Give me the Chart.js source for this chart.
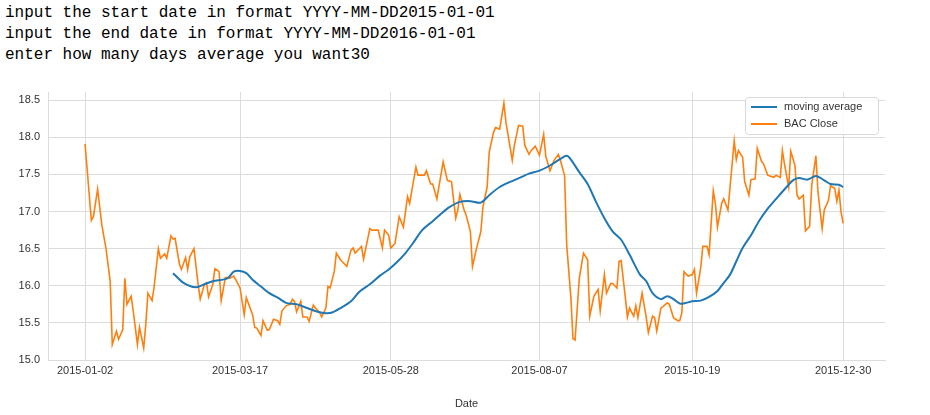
<!DOCTYPE html>
<html><head><meta charset="utf-8">
<script src="https://cdn.jsdelivr.net/npm/chart.js@4"></script>
<style>
body{margin:0;background:#fff;width:930px;height:415px;overflow:hidden;position:relative}
#txt{position:absolute;left:5px;top:3px;font-family:"Liberation Mono",monospace;font-size:16px;line-height:21px;color:#000;white-space:pre}
#wrap{position:absolute;left:0;top:75px;width:930px;height:340px}
</style></head><body>
<div id="txt">input the start date in format YYYY-MM-DD2015-01-01
input the end date in format YYYY-MM-DD2016-01-01
enter how many days average you want30</div>
<div id="wrap"><canvas id="c"></canvas></div>
<script>
// days since 2015-01-02
const closeDays=[0,3,4,6,8,10,12,13,15,16,18,19,20,22,23,25,26,28,29,30,32,33,35,36,38,39,41,42,43,45,46,48,49,50,52,54,55,57,58,59,61,62,64,65,67,68,69,71,72,74,76,77,80,81,82,84,85,87,88,90,92,93,94,96,98,99,100,101,103,104,106,107,109,110,112,113,115,116,117,119,120,122,125,127,128,129,132,133,136,137,140,142,143,145,146,148,150,152,154,155,158,159,162,163,165,166,168,171,173,175,177,178,179,181,182,184,185,187,189,190,192,193,195,196,198,200,201,204,205,207,209,210,212,213,215,217,219,220,222,224,226,227,229,230,232,233,234,236,238,240,241,243,245,246,248,249,251,252,254,255,256,258,259,260,262,263,264,266,268,269,271,272,273,275,276,278,279,281,283,284,285,286,288,290,291,292,294,295,297,298,300,301,302,304,305,307,308,310,311,312,314,315,317,318,320,321,323,324,326,327,329,330,332,333,334,336,337,339,340,341,343,344,346,347,349,350,352,353,355,356,358,359,360,361,362];
const closeVals=[17.91,16.88,16.93,17.30,16.82,16.50,16.06,15.21,15.39,15.28,15.41,16.10,15.75,15.86,15.66,15.21,15.44,15.16,15.48,15.90,15.80,15.99,16.50,16.37,16.43,16.37,16.67,16.63,16.64,16.30,16.22,16.38,16.22,16.39,16.50,16.02,15.82,16.02,16.04,15.85,16.02,16.23,16.19,15.80,16.11,16.11,16.10,16.13,16.08,15.97,15.61,15.84,15.61,15.44,15.43,15.33,15.53,15.40,15.41,15.55,15.53,15.48,15.66,15.73,15.75,15.82,15.79,15.65,15.79,15.58,15.58,15.52,15.74,15.70,15.64,15.58,15.70,15.99,15.97,16.19,16.44,16.35,16.26,16.48,16.51,16.44,16.53,16.36,16.77,16.75,16.75,16.51,16.75,16.68,16.51,16.57,16.93,16.79,17.20,17.11,17.60,17.49,17.49,17.55,17.37,17.37,17.17,17.67,17.42,17.40,16.91,17.02,17.23,17.02,16.95,16.73,16.26,16.51,16.73,17.06,17.33,17.80,18.06,18.13,18.11,18.46,18.20,17.69,17.89,18.16,18.15,17.89,17.77,17.82,17.88,17.76,18.04,17.75,17.55,17.69,17.77,17.69,17.48,16.55,15.84,15.29,15.27,16.10,16.44,16.35,15.59,15.86,15.95,15.66,16.15,15.90,16.03,16.03,15.97,16.33,16.34,15.84,15.58,15.70,15.59,15.73,15.57,15.90,15.57,15.37,15.59,15.57,15.39,15.70,15.72,15.77,15.75,15.57,15.53,15.53,15.64,16.19,16.13,16.15,16.22,15.90,16.24,16.53,16.53,16.42,17.28,17.11,16.79,17.11,17.17,17.02,17.33,17.95,17.70,17.82,17.73,17.40,17.22,17.43,17.44,17.85,17.68,17.64,17.49,17.48,17.46,17.49,17.46,17.82,17.64,17.33,17.81,17.62,17.22,17.17,17.22,16.74,16.80,17.35,17.75,17.26,16.77,17.02,17.15,17.35,17.31,17.14,17.29,17.00,16.84];
const maDays=[42,47,53,57,61,68,71,74,77,80,84,88,92,96,101,106,111,115,118,122,127,131,136,141,145,149,153,157,161,166,170,174,179,184,189,193,198,203,208,212,217,222,227,230,232,236,240,244,248,252,256,260,265,268,271,275,278,281,284,287,290,294,298,302,305,308,311,314,318,322,326,330,335,338,341,345,349,353,356,360,362];
const maVals=[16.17,16.04,15.98,16.02,16.06,16.10,16.19,16.20,16.17,16.08,15.99,15.90,15.84,15.77,15.75,15.70,15.65,15.63,15.64,15.70,15.79,15.92,16.02,16.14,16.22,16.32,16.44,16.59,16.75,16.87,16.97,17.06,17.13,17.14,17.12,17.22,17.33,17.40,17.46,17.51,17.55,17.62,17.71,17.75,17.70,17.53,17.37,17.13,16.91,16.73,16.62,16.42,16.15,16.06,15.90,15.82,15.86,15.82,15.76,15.77,15.79,15.80,15.85,15.93,16.04,16.15,16.33,16.51,16.68,16.88,17.04,17.17,17.33,17.42,17.45,17.43,17.48,17.42,17.37,17.36,17.33];
const tickDays=[0,74,146,217,290,362];
const tickLabels=['2015-01-02','2015-03-17','2015-05-28','2015-08-07','2015-10-19','2015-12-30'];
const legendNames=['moving average','BAC Close'];
const colors=['#1f77b4','#ff7f0e'];

const pts=(d,v)=>d.map((x,i)=>({x:x,y:v[i]}));
const legendPlugin={id:'lg',afterDraw(ch){const c=ch.ctx,a=ch.chartArea;const x=a.right-140,y=a.top+5;
c.save();c.fillStyle='rgba(255,255,255,0.85)';c.strokeStyle='#d8d8d8';c.lineWidth=1;
c.beginPath();c.roundRect(x+0.5,y+0.5,133,37,3);c.fill();c.stroke();
c.font='11px "Liberation Sans",Arial,sans-serif';c.textBaseline='middle';
legendNames.forEach((n,i)=>{const yy=y+10+i*17;c.strokeStyle=colors[i];c.lineWidth=2;c.beginPath();c.moveTo(x+6,yy);c.lineTo(x+32,yy);c.stroke();c.fillStyle='#333';c.fillText(n,x+39,yy);});
c.restore();}};
new Chart(document.getElementById('c'),{type:'line',
data:{datasets:[
{label:legendNames[0],data:pts(maDays,maVals),borderColor:colors[0],borderWidth:2,pointRadius:0,tension:0.3},
{label:legendNames[1],data:pts(closeDays,closeVals),borderColor:colors[1],borderWidth:1.6,pointRadius:0,tension:0}]},
options:{responsive:true,maintainAspectRatio:false,animation:false,
layout:{padding:{top:17,right:45,left:0,bottom:0}},
plugins:{legend:{display:false},tooltip:{enabled:false}},
scales:{
x:{type:'linear',min:-17.7,max:382,
afterBuildTicks(s){s.ticks=tickDays.map(v=>({value:v}));},
afterFit(s){s.height=55;},
ticks:{autoSkip:false,maxRotation:0,color:'#333',font:{size:11,family:'"Liberation Sans",Arial'},padding:4,callback:(v)=>tickLabels[tickDays.indexOf(v)]},
grid:{color:'#dcdcdc',drawTicks:false},border:{color:'#dcdcdc'},
title:{display:true,text:'Date',color:'#333',font:{size:11,family:'"Liberation Sans",Arial'},padding:{top:2}}},
y:{min:15,max:18.61,
afterBuildTicks(s){s.ticks=[15,15.5,16,16.5,17,17.5,18,18.5].map(v=>({value:v}));},
afterFit(s){s.width=48;},
ticks:{color:'#333',font:{size:11,family:'"Liberation Sans",Arial'},padding:8,callback:v=>v.toFixed(1)},
grid:{color:'#dcdcdc',drawTicks:false},border:{color:'#dcdcdc'}}}},
plugins:[legendPlugin]});
</script></body></html>
